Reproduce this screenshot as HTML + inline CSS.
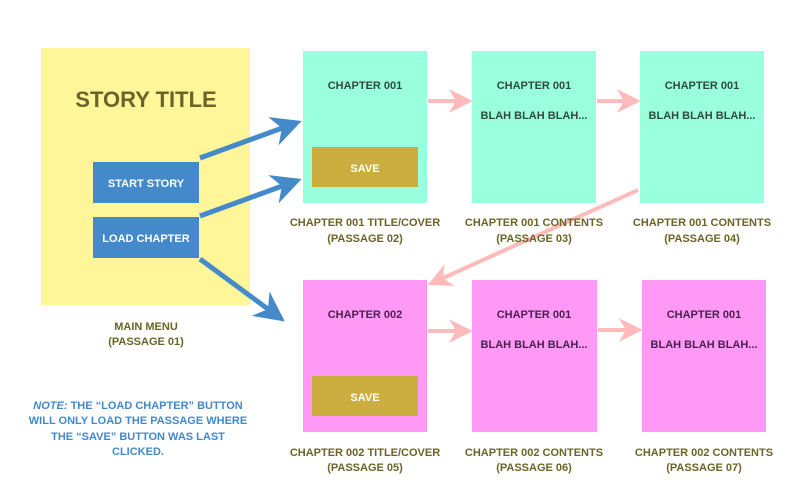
<!DOCTYPE html>
<html><head><meta charset="utf-8"><style>
body{margin:0;background:#fff}
svg{display:block}
text{font-family:"Liberation Sans",sans-serif;font-weight:bold;text-anchor:middle}
.l{fill:#6b6428;font-size:11px}
.t{fill:#2f4b3c;font-size:11px}
.p{fill:#4a2050;font-size:11px}
.w{fill:#fff;font-size:11px}
.n{fill:#4488cc;font-size:11px}
</style></head><body>
<svg width="800" height="500" viewBox="0 0 800 500">
<defs>
<marker id="ab" viewBox="0 0 10 10" refX="8" refY="5" markerWidth="6" markerHeight="6" orient="auto" markerUnits="strokeWidth"><path d="M0,0 L10,5 L0,10 L3,5 Z" fill="#4489c9"/></marker>
<marker id="ap" viewBox="0 0 10 10" refX="8" refY="5" markerWidth="6" markerHeight="6" orient="auto" markerUnits="strokeWidth"><path d="M0,0 L10,5 L0,10 L3,5 Z" fill="#ffbbbb"/></marker>
</defs>
<rect x="41" y="48" width="209" height="257" fill="#fff599"/>
<rect x="303" y="51" width="124" height="152" fill="#99ffdd"/>
<rect x="472" y="51" width="124" height="152" fill="#99ffdd"/>
<rect x="640" y="51" width="124" height="152" fill="#99ffdd"/>
<rect x="303" y="280" width="124" height="152" fill="#ff99f5"/>
<rect x="472" y="280" width="125" height="152" fill="#ff99f5"/>
<rect x="642" y="280" width="124" height="152" fill="#ff99f5"/>

<g stroke="#ffbbbb" stroke-width="4" fill="none">
<line x1="428" y1="101" x2="468" y2="101" marker-end="url(#ap)"/>
<line x1="597" y1="101" x2="636" y2="101" marker-end="url(#ap)"/>
<line x1="638" y1="190" x2="432" y2="283" marker-end="url(#ap)"/>
<line x1="428" y1="331" x2="468" y2="331" marker-end="url(#ap)"/>
<line x1="598" y1="330" x2="638" y2="330" marker-end="url(#ap)"/>
</g>

<text x="146" y="107" style="font-size:22px;fill:#6b6428">STORY TITLE</text>
<rect x="93" y="162" width="106" height="41" fill="#4489c9"/>
<text x="146" y="187" class="w">START STORY</text>
<rect x="93" y="217" width="106" height="41" fill="#4489c9"/>
<text x="146" y="242" class="w">LOAD CHAPTER</text>
<text x="146" y="330" class="l">MAIN MENU</text>
<text x="146" y="345" class="l">(PASSAGE 01)</text>

<rect x="312" y="147" width="106" height="40" fill="#ccae40"/>
<text x="365" y="172" class="w">SAVE</text>
<text x="365" y="89" class="t">CHAPTER 001</text>
<text x="534" y="89" class="t">CHAPTER 001</text>
<text x="534" y="119" class="t">BLAH BLAH BLAH...</text>
<text x="702" y="89" class="t">CHAPTER 001</text>
<text x="702" y="119" class="t">BLAH BLAH BLAH...</text>
<text x="365" y="226" class="l">CHAPTER 001 TITLE/COVER</text>
<text x="365" y="242" class="l">(PASSAGE 02)</text>
<text x="534" y="226" class="l">CHAPTER 001 CONTENTS</text>
<text x="534" y="242" class="l">(PASSAGE 03)</text>
<text x="702" y="226" class="l">CHAPTER 001 CONTENTS</text>
<text x="702" y="242" class="l">(PASSAGE 04)</text>

<rect x="312" y="376" width="106" height="40" fill="#ccae40"/>
<text x="365" y="401" class="w">SAVE</text>
<text x="365" y="318" class="p">CHAPTER 002</text>
<text x="534" y="318" class="p">CHAPTER 001</text>
<text x="534" y="348" class="p">BLAH BLAH BLAH...</text>
<text x="704" y="318" class="p">CHAPTER 001</text>
<text x="704" y="348" class="p">BLAH BLAH BLAH...</text>
<text x="365" y="456" class="l">CHAPTER 002 TITLE/COVER</text>
<text x="365" y="471" class="l">(PASSAGE 05)</text>
<text x="534" y="456" class="l">CHAPTER 002 CONTENTS</text>
<text x="534" y="471" class="l">(PASSAGE 06)</text>
<text x="704" y="456" class="l">CHAPTER 002 CONTENTS</text>
<text x="704" y="471" class="l">(PASSAGE 07)</text>

<text x="138" y="409" class="n"><tspan font-style="italic">NOTE:</tspan> THE “LOAD CHAPTER” BUTTON</text>
<text x="138" y="424" class="n">WILL ONLY LOAD THE PASSAGE WHERE</text>
<text x="138" y="440" class="n">THE “SAVE” BUTTON WAS LAST</text>
<text x="138" y="455" class="n">CLICKED.</text>

<g stroke="#4489c9" stroke-width="5" fill="none">
<line x1="200" y1="158" x2="296" y2="123" marker-end="url(#ab)"/>
<line x1="200" y1="216" x2="296" y2="181" marker-end="url(#ab)"/>
<line x1="200" y1="259" x2="280" y2="318" marker-end="url(#ab)"/>
</g>
</svg>
</body></html>
